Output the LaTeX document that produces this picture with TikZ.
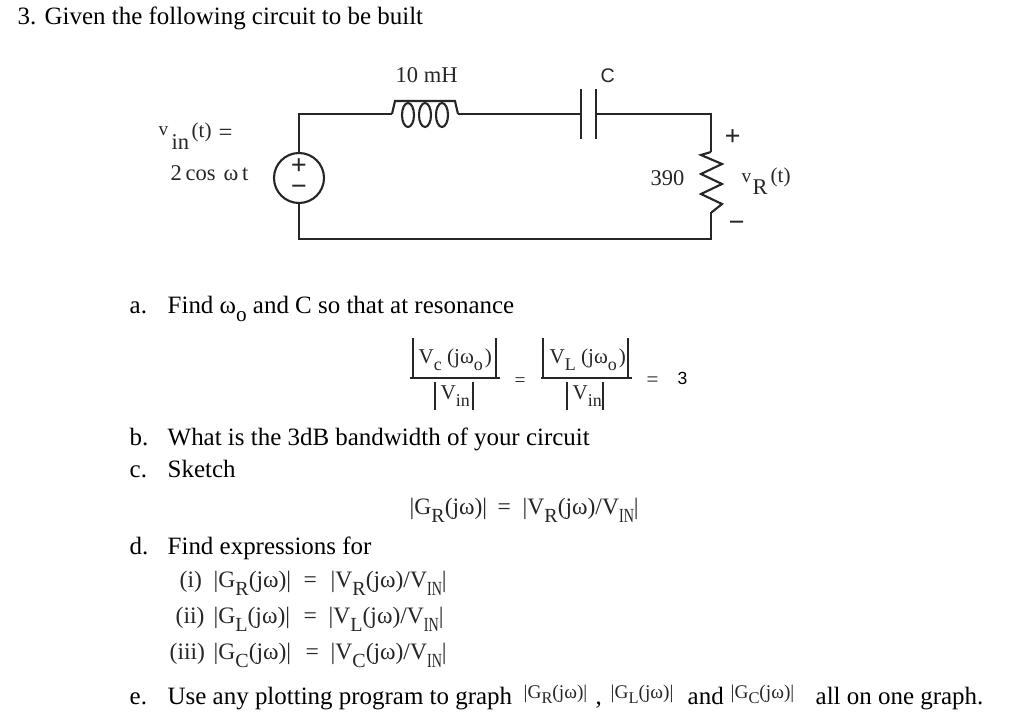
\documentclass[tikz,border=0pt]{standalone}
\usepackage{fontspec}
\setmainfont{Liberation Serif}
\newfontfamily\labelsans{Liberation Sans}
\usetikzlibrary{positioning}
\definecolor{scan}{gray}{0.15}
\newcommand{\sizept}[1]{\fontsize{#1}{#1}\selectfont}
\newcommand{\lowsub}[1]{\raisebox{-0.3em}{\scalebox{0.85}{#1}}}
\newcommand{\insub}{\raisebox{-0.3em}{\scalebox{0.6}[0.85]{IN}}}
\newcommand{\gainline}[1]{\textbar G\lowsub{#1}(jω)\textbar}
\newcommand{\ratioline}[1]{\textbar V\lowsub{#1}(jω)/V\insub\textbar}
\tikzset{
  body/.style={anchor=base west,inner sep=0pt,font=\sizept{7.1}},
  scanned/.style={anchor=base west,inner sep=0pt,text=scan,font=\sizept{6.4}},
  formula/.style={anchor=base west,inner sep=0pt,text=scan,font=\sizept{6.7}},
  small/.style={anchor=base west,inner sep=0pt,text=scan,font=\sizept{5.5}},
  polarity/.style={anchor=base,inner sep=0pt,text=scan,font=\sizept{8}\bfseries},
  wire/.style={draw=scan,line width=0.6pt},
}
\begin{document}
\begin{tikzpicture}
        \useasboundingbox (0,0) rectangle (10.24,7.24);
        \node[body] (title) at (0.17,6.99) {3. Given the following circuit to be built};
        % circuit
        \node[draw=scan,line width=0.6pt,circle,minimum size=5mm,inner sep=0pt] (Vs) at (2.99,5.46) {};
        \node[polarity] (Vp) at (2.99,5.49) {+};
        \node[polarity] (Vm) at (2.99,5.28) {\textminus};
        \coordinate (TL) at (2.99,6.10);
        \coordinate (BL) at (2.99,4.85);
        \coordinate (TR) at (7.11,6.10);
        \coordinate (BR) at (7.11,4.85);
        \coordinate (Lin) at (3.92,6.10);
        \coordinate (Lout) at (4.58,6.10);
        \coordinate (Ca) at (5.81,6.10);
        \coordinate (Cb) at (5.96,6.10);
        \coordinate (Rt) at (7.11,5.72);
        \coordinate (Rb) at (7.11,5.12);
        \draw[wire] (Vs) -- (TL) -- (Lin);
        \draw[wire] (Vs) -- (BL) -- (BR) -- (Rb);
        \draw[wire] (Lout) -- (Ca);
        \draw[wire] (Cb) -- (TR) -- (Rt);
        % inductor
        \draw[wire] (Lin) -- ++(0.03,0.13) -- (4.55,6.23) -- (Lout);
        \foreach \cx in {4.08,4.25,4.42}
          \draw[wire] (\cx,6.09) ellipse (0.06 and 0.12);
        % capacitor
        \draw[wire] (Ca) ++(0,0.25) -- ++(0,-0.50);
        \draw[wire] (Cb) ++(0,0.25) -- ++(0,-0.50);
        % resistor
        \draw[wire] (Rt) -- ++(-0.10,-0.03) -- ++(0.21,-0.09) -- ++(-0.21,-0.10) -- ++(0.21,-0.10)
          -- ++(-0.21,-0.10) -- ++(0.21,-0.10) -- ++(-0.10,-0.08) -- (Rb);
        \node[scanned] (Lval) at (3.95,6.41) {10 mH};
        \node[small,font=\labelsans\sizept{5.6}] (Cval) at (6.00,6.41) {C};
        \node[small] (vin) at (1.58,5.88) {v};
        \node[small,font=\sizept{6.4}] (vinsub) at (1.71,5.74) {in};
        \node[small,font=\sizept{6}] (vint) at (1.91,5.86) {(t)};
        \node[small,font=\sizept{7}] (vineq) at (2.18,5.83) {=};
        \node[scanned] (drive) at (1.70,5.43) {2\,cos\hspace{0.35em}ω\,t};
        \node[scanned] (Rval) at (6.50,5.38) {390};
        \node[scanned,font=\sizept{8}\bfseries] (Rp) at (7.24,5.78) {+};
        \node[scanned,font=\sizept{8}\bfseries] (Rm) at (7.28,4.92) {\textminus};
        \node[small] (vr) at (7.41,5.41) {v};
        \node[scanned] (vrsub) at (7.52,5.29) {R};
        \node[small,font=\sizept{6}] (vrt) at (7.70,5.41) {(t)};
        % part a
        \node[body] (a) at (1.29,4.10) {a.};
        \node[body] (atext) at (1.67,4.10) {Find ω\lowsub{o} and C so that at resonance};
        \node[scanned,font=\sizept{6}] (numC) at (4.18,3.60) {V\lowsub{c}\hspace{0.25em}(jω\lowsub{o}\hspace{0.1em})};
        \node[scanned,font=\sizept{6}] (denC) at (4.40,3.24) {V\lowsub{in}};
        \node[scanned,font=\sizept{6}] (numL) at (5.49,3.60) {V\lowsub{L}\hspace{0.25em}(jω\lowsub{o}\hspace{0.1em})};
        \node[scanned,font=\sizept{6}] (denL) at (5.72,3.24) {V\lowsub{in}};
        \draw[wire] (4.13,3.86) -- (4.13,3.46);
        \draw[wire] (4.96,3.86) -- (4.96,3.46);
        \draw[wire] (4.10,3.46) -- (5.00,3.46);
        \draw[wire] (5.43,3.86) -- (5.43,3.46);
        \draw[wire] (6.28,3.86) -- (6.28,3.46);
        \draw[wire] (5.41,3.46) -- (6.32,3.46);
        \draw[wire] (4.35,3.42) -- (4.35,3.14);
        \draw[wire] (4.73,3.42) -- (4.73,3.14);
        \draw[wire] (5.67,3.42) -- (5.67,3.14);
        \draw[wire] (6.03,3.42) -- (6.03,3.14);
        \node[small] (eqa) at (5.14,3.37) {=};
        \node[small,font=\sizept{6}] (eqb) at (6.46,3.37) {=};
        \node[body,font=\labelsans\sizept{5}] (three) at (6.77,3.39) {3};
        % parts b c
        \node[body] (b) at (1.29,2.79) {b.};
        \node[body] (btext) at (1.67,2.79) {What is the 3dB bandwidth of your circuit};
        \node[body] (c) at (1.29,2.46) {c.};
        \node[body] (ctext) at (1.67,2.46) {Sketch};
        \node[formula] (gR) at (4.09,2.09) {\gainline{R}};
        \node[formula] (eqR) at (4.97,2.09) {=};
        \node[formula] (rR) at (5.22,2.09) {\ratioline{R}};
        % part d
        \node[body] (d) at (1.29,1.70) {d.};
        \node[body] (dtext) at (1.67,1.70) {Find expressions for};
        \node[formula] (di) at (1.79,1.36) {(i)};
        \node[formula] (dig) at (2.13,1.36) {\gainline{R}};
        \node[formula] (die) at (3.03,1.36) {=};
        \node[formula] (dir) at (3.30,1.36) {\ratioline{R}};
        \node[formula] (dii) at (1.75,1.00) {(ii)};
        \node[formula] (diig) at (2.13,1.00) {\gainline{L}};
        \node[formula] (diie) at (3.03,1.00) {=};
        \node[formula] (diir) at (3.28,1.00) {\ratioline{L}};
        \node[formula] (diii) at (1.69,0.64) {(iii)};
        \node[formula] (diiig) at (2.13,0.64) {\gainline{C}};
        \node[formula] (diiie) at (3.05,0.64) {=};
        \node[formula] (diiir) at (3.30,0.64) {\ratioline{C}};
        % part e
        \node[body] (e) at (1.29,0.20) {e.};
        \node[body] (etext) at (1.67,0.20) {Use any plotting program to graph};
        \node[small] (eR) at (5.23,0.26) {\gainline{R}};
        \node[body] (ecomma) at (5.95,0.20) {,};
        \node[small] (eL) at (6.10,0.26) {\gainline{L}};
        \node[body] (eand) at (6.87,0.20) {and};
        \node[small] (eC) at (7.30,0.26) {\gainline{C}};
        \node[body] (eend) at (8.15,0.20) {all on one graph.};
        \end{tikzpicture}
\end{document}
